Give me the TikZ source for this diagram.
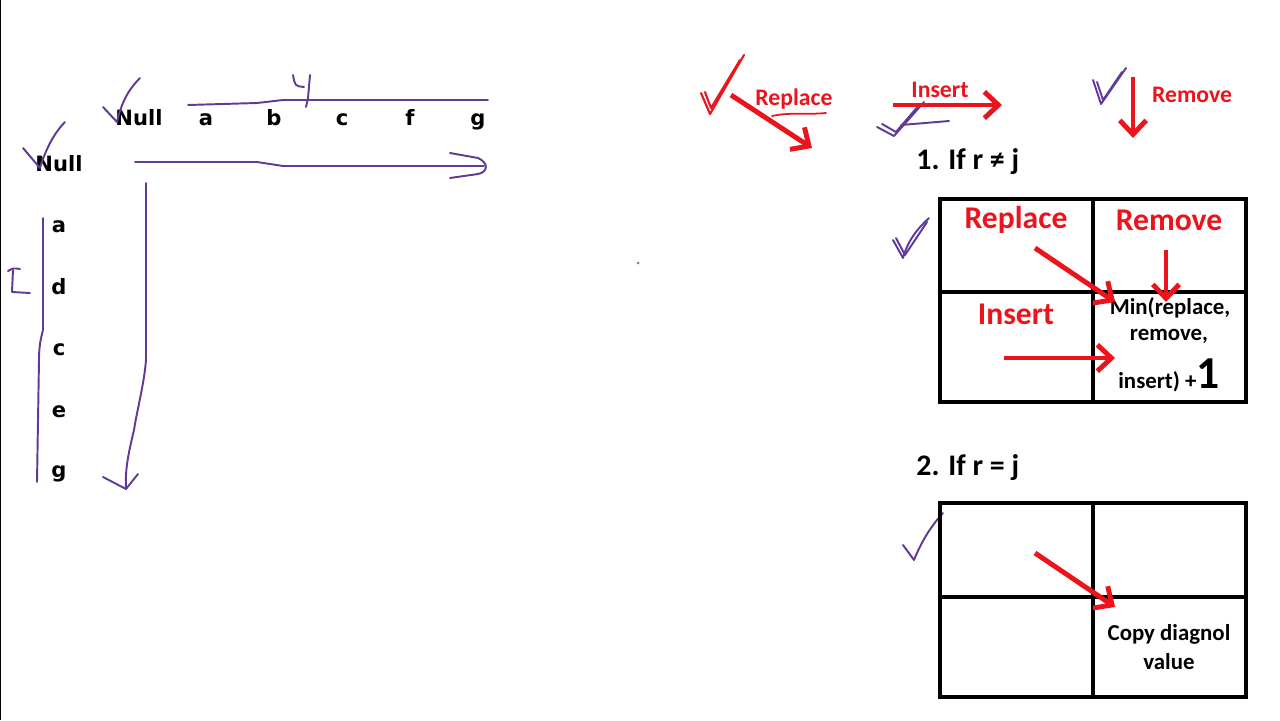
\documentclass[tikz,border=0pt]{standalone}
\usepackage{fontspec}
\setmainfont{Carlito}
\newfontfamily\dvsans{DejaVu Sans}
\usetikzlibrary{arrows.meta}
\definecolor{pen}{RGB}{96,58,150}
\definecolor{pred}{RGB}{236,20,28}
\tikzset{
  hdr/.style={font=\dvsans\fontsize{12pt}{14pt}\selectfont\bfseries, inner sep=0pt, anchor=base},
  cond/.style={font=\fontsize{17pt}{20pt}\selectfont\bfseries, inner sep=0pt, anchor=west},
  redlbl/.style={font=\fontsize{18pt}{21pt}\selectfont\bfseries, text=pred, inner sep=0pt},
  smallred/.style={font=\fontsize{13.5pt}{15pt}\selectfont\bfseries, text=pred, inner sep=0pt},
  celltxt/.style={font=\fontsize{13pt}{16pt}\selectfont\bfseries, inner sep=0pt},
  penline/.style={draw=pen, line width=1.1pt, line cap=round, line join=round},
  redarrow/.style={draw=pred, line width=2.8pt, -{Straight Barb[length=8pt,width=15pt]}},
  grid/.style={draw=black, line width=1.8pt},
}
\begin{document}
\begin{tikzpicture}[x=0.02cm,y=-0.02cm]
\useasboundingbox (0,0) rectangle (1280,720);
\fill[white] (0,0) rectangle (1280,720);
\draw[black, line width=1pt] (0.5,0) -- (0.5,720);

% ---- left table labels ----
\node[hdr] (hnull) at (139,125) {Null};
\node[hdr] (ha) at (206,125) {a};
\node[hdr] (hb) at (274,125) {b};
\node[hdr] (hc) at (342,125) {c};
\node[hdr] (hf) at (410,125) {f};
\node[hdr] (hg) at (478,125) {g};
\node[hdr] (rnull) at (59,171) {Null};
\node[hdr] (ra) at (59,232) {a};
\node[hdr] (rd) at (59,294) {d};
\node[hdr] (rc) at (59,355) {c};
\node[hdr] (re) at (59,417) {e};
\node[hdr] (rg) at (59,477) {g};

% purple hand strokes
\draw[penline] (188,105) -- (257,103) .. controls (270,101) .. (283,100) -- (488,100);
\draw[penline] (293,75) .. controls (295,86) .. (304,87);
\draw[penline] (310,75) -- (308,98) -- (306,107);
\draw[penline] (135,162) -- (257,162) .. controls (270,163) .. (283,166) -- (484,166);
\draw[penline] (450,153) -- (478,158) .. controls (489,163) and (488,172) .. (478,174) -- (450,178);
\draw[penline] (146,183) -- (146,360) .. controls (144,385) and (137,410) .. (134,430) .. controls (128,455) and (125,470) .. (126,489);
\draw[penline] (103,477) -- (126,489) -- (138,474);
\draw[penline] (43,218) -- (43,330) .. controls (41,338) and (39,345) .. (39,360) -- (37,482);
\draw[penline] (8,271) .. controls (13,268) .. (20,269);
\draw[penline] (13,270) -- (12,292) -- (30,293);
% checks
\draw[penline] (103,107) -- (117,122) .. controls (122,100) and (130,88) .. (140,78);
\draw[penline] (23,148) -- (40,168) .. controls (46,148) and (55,132) .. (65,122);
\draw[penline] (893,240) -- (903,258) .. controls (908,240) and (918,228) .. (929,218);
\draw[penline] (896,238) -- (905,255) -- (927,222);
\draw[penline] (903,545) -- (914,560) .. controls (922,540) and (932,525) .. (943,513);
\draw[penline] (1093,80) -- (1101,104) -- (1126,68);
\draw[penline] (1097,82) -- (1103,100) -- (1122,72);
\draw[penline] (877,127) -- (894,136) -- (924,102);
\draw[penline] (882,124) -- (896,132) -- (920,104);
\draw[penline] (901,125) -- (949,121);
\fill[pen!70] (638,263) circle (1.5);

% ---- top right legend ----
\draw[draw=pred, line width=1.2pt, line cap=round, line join=round] (701,93) -- (710,114) -- (744,55);
\draw[draw=pred, line width=1.2pt, line cap=round, line join=round] (705,92) -- (711,108) -- (740,60);
\coordinate (rs) at (731,95); \coordinate (re1) at (812,148);
\draw[redarrow] (rs) -- (re1);
\node[smallred] (lrep) at (794,99) {Replace};
\draw[draw=pred, line width=1pt, line cap=round] (772,116) .. controls (790,112) and (805,115) .. (826,113);
\coordinate (is) at (893,105); \coordinate (ie) at (1002,105);
\draw[redarrow] (is) -- (ie);
\node[smallred] (lins) at (940,90) {Insert};
\coordinate (ms) at (1133,77); \coordinate (me) at (1133,138);
\draw[redarrow] (ms) -- (me);
\node[smallred] (lrem) at (1192,95) {Remove};

% ---- condition 1 ----
\node[cond] (c1) at (916,162) {1. If r ≠ j};
\draw[grid] (940,199) rectangle (1246,402);
\draw[grid] (1093,199) -- (1093,402);
\draw[grid] (940,292) -- (1246,292);
\node[redlbl] (t1rep) at (1016,220) {Replace};
\node[redlbl] (t1rem) at (1169,220) {Remove};
\node[redlbl] (t1ins) at (1016,314) {Insert};
\node[celltxt] (m1) at (1170,308) {Min(replace,};
\node[celltxt] (m2) at (1169,336) {remove,};
\node[celltxt, anchor=base west] (m3) at (1118,388) {insert) +\fontsize{26pt}{28pt}\selectfont 1};
\coordinate (a1s) at (1035,248); \coordinate (a1e) at (1115,302);
\draw[redarrow] (a1s) -- (a1e);
\coordinate (a2s) at (1166,250); \coordinate (a2e) at (1166,302);
\draw[redarrow] (a2s) -- (a2e);
\coordinate (a3s) at (1004,358); \coordinate (a3e) at (1115,358);
\draw[redarrow] (a3s) -- (a3e);

% ---- condition 2 ----
\node[cond] (c2) at (916,468) {2. If r = j};
\draw[grid] (940,503) rectangle (1246,697);
\draw[grid] (1093,503) -- (1093,697);
\draw[grid] (940,597) -- (1246,597);
\coordinate (a4s) at (1035,553); \coordinate (a4e) at (1115,607);
\draw[redarrow] (a4s) -- (a4e);
\node[celltxt] (cp1) at (1169,634) {Copy diagnol};
\node[celltxt] (cp2) at (1169,662) {value};
\end{tikzpicture}
\end{document}
